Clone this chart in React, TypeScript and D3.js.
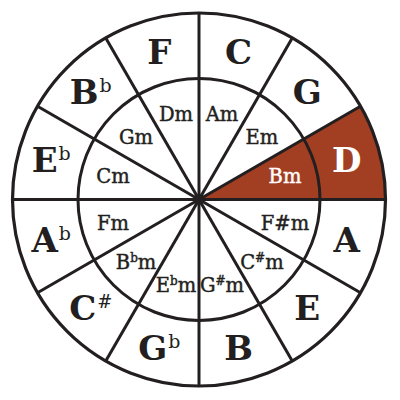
import * as d3 from 'd3';

// circle of fifths, clockwise from the top
const majorRoots = ['C', 'G', 'D', 'A', 'E', 'B', 'G', 'C', 'A', 'E', 'B', 'F'];
const majorAccents = ['', '', '', '', '', '', 'b', '#', 'b', 'b', 'b', ''];
const minorRoots = ['A', 'E', 'B', 'F#', 'C', 'G', 'E', 'B', 'F', 'C', 'G', 'D'];
const minorAccents = ['', '', '', '', '#', '#', 'b', 'b', '', '', '', ''];
const highlighted = ['D'];

const W = 400;
const H = 400;
const cx = 199;
const cy = 199.5;
const outerR = 186.5;
const innerR = 121;
const majorLabelR = 153;
const minorLabelR = 89;
const INK = '#231f20';
const RED = '#a23f22';
const FONT = '"DejaVu Serif", serif';

const n = majorRoots.length;
const angle = d3.scaleLinear().domain([0, n]).range([0, 2 * Math.PI]);

const wedge = d3
  .arc<number>()
  .innerRadius(0)
  .outerRadius(outerR)
  .startAngle((i) => angle(i))
  .endAngle((i) => angle(i + 1));

export default function App() {
  const hiIdx = majorRoots
    .map((r, i) => ({ key: r + majorAccents[i], i }))
    .filter((d) => highlighted.includes(d.key))
    .map((d) => d.i);

  return (
    <svg
      width={W}
      height={H}
      style={{ position: 'absolute', left: 0, top: 0, display: 'block', background: '#fff' }}
    >
      <g transform={`translate(${cx},${cy})`}>
        {hiIdx.map((i) => (
          <path key={i} d={wedge(i) || ''} fill={RED} />
        ))}

        {/* spokes */}
        {d3.range(n).map((i) => {
          const [x, y] = d3.pointRadial(angle(i), outerR);
          return <line key={i} x1={0} y1={0} x2={x} y2={y} stroke={INK} strokeWidth={3} />;
        })}
        <circle r={innerR} fill="none" stroke={INK} strokeWidth={3} />
        <circle r={outerR} fill="none" stroke={INK} strokeWidth={3.2} />
        <circle r={5} fill={INK} />

        {/* major keys */}
        {majorRoots.map((root, i) => {
          const [x, y] = d3.pointRadial(angle(i + 0.5), majorLabelR);
          const hi = hiIdx.includes(i);
          const acc = majorAccents[i];
          return (
            <text
              key={'M' + i}
              x={x}
              y={y + 12.5}
              textAnchor="middle"
              fontFamily={FONT}
              fontWeight="bold"
              fontSize={34}
              fill={hi ? '#fff' : INK}
            >
              {root}
              {acc && (
                <tspan fontSize={acc === '#' ? 18 : 19} fontWeight="normal" dx={1} dy={-12}>
                  {acc}
                </tspan>
              )}
            </text>
          );
        })}

        {/* relative minors */}
        {minorRoots.map((root, i) => {
          const [x, y] = d3.pointRadial(angle(i + 0.5), minorLabelR);
          const hi = hiIdx.includes(i);
          const acc = minorAccents[i];
          const col = hi ? '#fff' : INK;
          return (
            <text
              key={'m' + i}
              x={x}
              y={y + 7}
              textAnchor="middle"
              fontFamily={FONT}
              fontSize={19.5}
              fill={col}
              stroke={col}
              strokeWidth={0.45}
            >
              {root}
              {acc ? (
                <>
                  <tspan fontSize={12} dy={-7}>
                    {acc}
                  </tspan>
                  <tspan dy={7}>m</tspan>
                </>
              ) : (
                'm'
              )}
            </text>
          );
        })}
      </g>
    </svg>
  );
}
